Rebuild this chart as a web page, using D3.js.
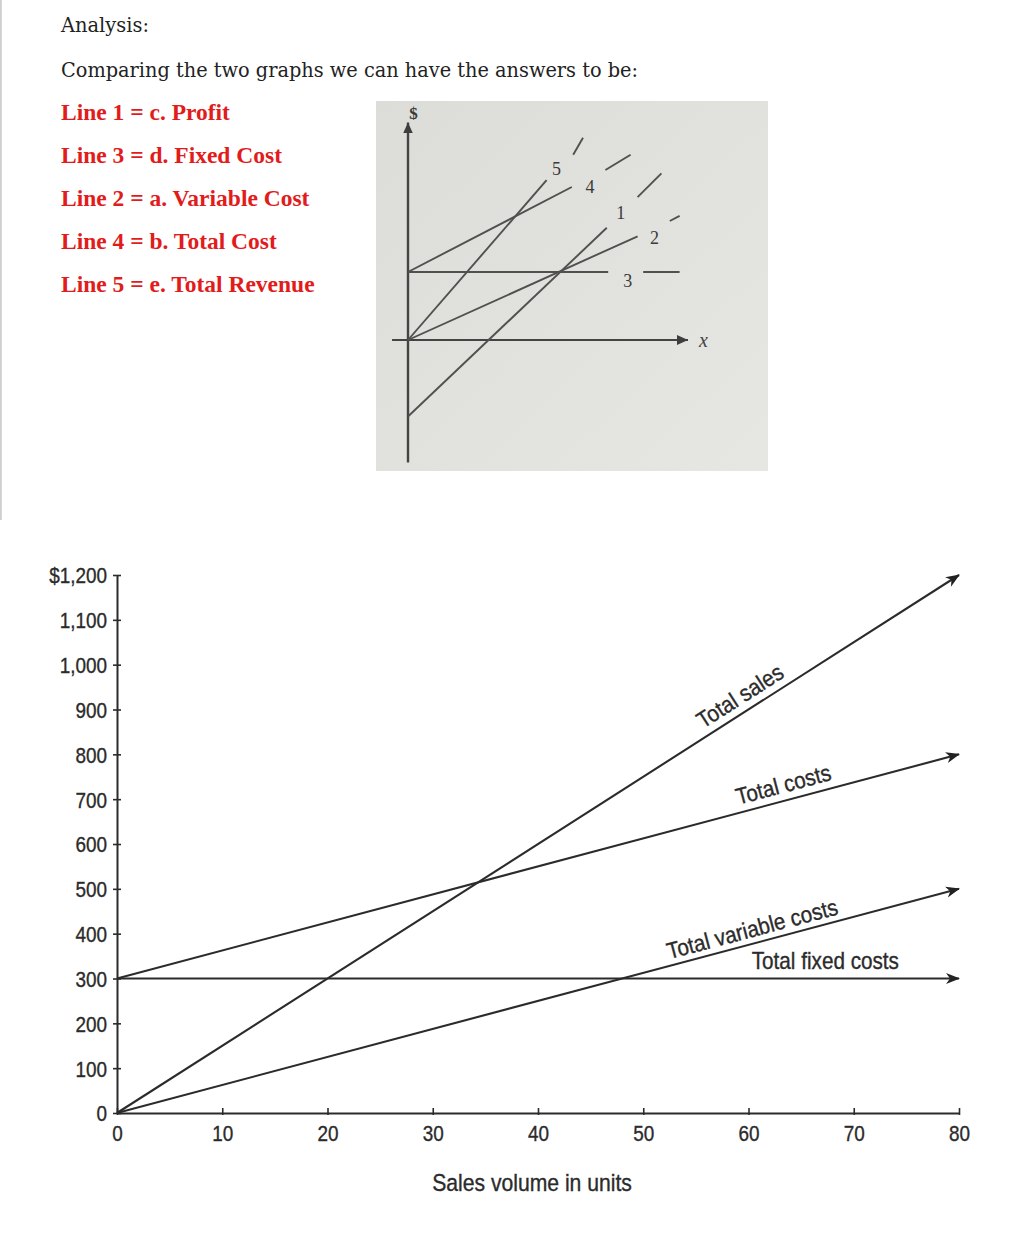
<!DOCTYPE html>
<html>
<head>
<meta charset="utf-8">
<script src="https://cdn.jsdelivr.net/npm/d3@7"></script>
<style>
  body { margin: 0; background: #fff; }
  svg { display: block; }
  .chart text { font-family: "Liberation Sans", Arial, sans-serif; font-size: 22px; fill: #2b2b2b; stroke: #2b2b2b; stroke-width: 0.35px; }
</style>
</head>
<body>
<div id="page"></div>
<script>
// ---- text block ----
const heading = 'Analysis:';
const intro = 'Comparing the two graphs we can have the answers to be:';
const answers = [
  'Line 1 = c. Profit',
  'Line 3 = d. Fixed Cost',
  'Line 2 = a. Variable Cost',
  'Line 4 = b. Total Cost',
  'Line 5 = e. Total Revenue'
];

// ---- sketch (photo) lines: [start, end] in sketch units ----
const sketchIds = ['1', '2', '3', '4', '5'];
const sketchLines = [
  [[0, -2.25], [7.1, 3.3]],
  [[0, 0], [8.2, 3.05]],
  [[0, 2], [7.15, 2]],
  [[0, 2], [5.85, 4.5]],
  [[0, 0], [4.95, 4.7]]
];
const sketchDashes = [
  [[8.2, 4.2], [9.05, 4.9]],
  [[9.35, 3.5], [9.7, 3.65]],
  [[8.4, 2], [9.7, 2]],
  [[7.05, 5.0], [7.95, 5.45]],
  [[5.9, 5.45], [6.25, 5.95]]
];
const sketchLabels = [[7.6, 3.75], [8.8, 3.0], [7.85, 1.75], [6.5, 4.5], [5.3, 5.05]];

// ---- break-even chart ----
const units = [0, 80];
const totalSales = [0, 1200];
const totalCosts = [300, 800];
const totalVariableCosts = [0, 500];
const totalFixedCosts = [300, 300];
const seriesNames = ['Total sales', 'Total costs', 'Total variable costs', 'Total fixed costs'];
const labelUnits = [60, 63.7, 60.7, 67.3];
const yTicks = [0, 100, 200, 300, 400, 500, 600, 700, 800, 900, 1000, 1100, 1200];
const xTicks = [0, 10, 20, 30, 40, 50, 60, 70, 80];
const xTitle = 'Sales volume in units';

const W = 1024, H = 1233;
// horizontal squeeze to mimic a condensed face
const NARROW_TICK = 0.86;
const NARROW_LABEL = 0.9;

const svg = d3.select('#page').append('svg')
  .attr('width', W)
  .attr('height', H);

// left border strip of the page
svg.append('line')
  .attr('x1', 0.8).attr('x2', 0.8)
  .attr('y1', 0).attr('y2', 520)
  .attr('stroke', '#cfcfcf')
  .attr('stroke-width', 2);

// Text block
const serif = '"DejaVu Serif", "Liberation Serif", serif';
svg.append('text')
  .attr('x', 61).attr('y', 32)
  .attr('textLength', 88).attr('lengthAdjust', 'spacingAndGlyphs')
  .style('font-family', serif)
  .style('font-size', '20px')
  .style('fill', '#222')
  .text(heading);

svg.append('text')
  .attr('x', 61).attr('y', 77)
  .attr('textLength', 577).attr('lengthAdjust', 'spacingAndGlyphs')
  .style('font-family', serif)
  .style('font-size', '20px')
  .style('fill', '#222')
  .text(intro);

svg.selectAll('.answer')
  .data(answers)
  .enter().append('text')
  .attr('class', 'answer')
  .attr('x', 61)
  .attr('y', (d, i) => 120 + i * 43)
  .style('font-family', '"Liberation Serif", "DejaVu Serif", serif')
  .style('font-size', '23.5px')
  .style('font-weight', 'bold')
  .style('fill', '#e21b1b')
  .text(d => d);

// Sketch photo
const defs = svg.append('defs');
const grad = defs.append('linearGradient')
  .attr('id', 'photoBg')
  .attr('x1', '0').attr('y1', '0').attr('x2', '1').attr('y2', '1');
grad.append('stop').attr('offset', '0%').attr('stop-color', '#dcdcd8');
grad.append('stop').attr('offset', '100%').attr('stop-color', '#e6e6e3');

svg.append('rect')
  .attr('x', 376).attr('y', 101)
  .attr('width', 392).attr('height', 370)
  .attr('fill', 'url(#photoBg)');

const px = d3.scaleLinear().domain([0, 10]).range([408, 688]);
const py = d3.scaleLinear().domain([0, 5]).range([340, 170]);

defs.append('marker')
  .attr('id', 'sketchArrow')
  .attr('viewBox', '0 -5 10 10')
  .attr('refX', 10).attr('refY', 0)
  .attr('markerWidth', 11).attr('markerHeight', 11)
  .attr('markerUnits', 'userSpaceOnUse')
  .attr('orient', 'auto')
  .append('path')
  .attr('d', 'M0,-4.5L10,0L0,4.5Z')
  .attr('fill', '#3e3e3e');

const sk = svg.append('g').attr('class', 'sketch');
// axes of the sketch
sk.append('line')
  .attr('x1', px(0)).attr('x2', px(0))
  .attr('y1', py(-3.6)).attr('y2', py(6.4))
  .attr('stroke', '#444').attr('stroke-width', 2.4)
  .attr('marker-end', 'url(#sketchArrow)');
sk.append('line')
  .attr('x1', px(-0.57)).attr('x2', px(10))
  .attr('y1', py(0)).attr('y2', py(0))
  .attr('stroke', '#444').attr('stroke-width', 2.2)
  .attr('marker-end', 'url(#sketchArrow)');
sk.append('text')
  .attr('x', px(0.2)).attr('y', py(6.5))
  .attr('text-anchor', 'middle')
  .style('font-family', '"Liberation Serif", serif')
  .style('font-weight', 'bold')
  .style('font-size', '17px')
  .style('fill', '#3a3a3a')
  .text('$');
sk.append('text')
  .attr('x', px(10.55)).attr('y', py(-0.2))
  .attr('text-anchor', 'middle')
  .style('font-family', '"Liberation Serif", serif')
  .style('font-style', 'italic')
  .style('font-size', '20px')
  .style('fill', '#444')
  .text('x');

const sketchPath = d3.line().x(d => px(d[0])).y(d => py(d[1]));
sk.selectAll('.sline')
  .data(sketchLines)
  .enter().append('path')
  .attr('class', 'sline')
  .attr('d', sketchPath)
  .attr('fill', 'none')
  .attr('stroke', '#505050')
  .attr('stroke-width', 1.9);
sk.selectAll('.sdash')
  .data(sketchDashes)
  .enter().append('path')
  .attr('class', 'sdash')
  .attr('d', sketchPath)
  .attr('fill', 'none')
  .attr('stroke', '#505050')
  .attr('stroke-width', 1.9);
sk.selectAll('.slabel')
  .data(sketchLabels)
  .enter().append('text')
  .attr('class', 'slabel')
  .attr('x', d => px(d[0]))
  .attr('y', d => py(d[1]))
  .attr('dy', '0.35em')
  .attr('text-anchor', 'middle')
  .style('font-family', '"Liberation Serif", serif')
  .style('font-size', '18px')
  .style('fill', '#3a3a3a')
  .text((d, i) => sketchIds[i]);

// Break-even chart
const x = d3.scaleLinear().domain([0, 80]).range([117, 959]);
const y = d3.scaleLinear().domain([0, 1200]).range([1113, 575]);

const chart = svg.append('g').attr('class', 'chart');

defs.append('marker')
  .attr('id', 'arrow')
  .attr('viewBox', '0 -6 14 12')
  .attr('refX', 13).attr('refY', 0)
  .attr('markerWidth', 14).attr('markerHeight', 12)
  .attr('markerUnits', 'userSpaceOnUse')
  .attr('orient', 'auto')
  .append('path')
  .attr('d', 'M0,-5.5L14,0L0,5.5L4,0Z')
  .attr('fill', '#222');

const yAxis = d3.axisLeft(y)
  .tickValues(yTicks)
  .tickSizeInner(4)
  .tickSizeOuter(0)
  .tickPadding(6)
  .tickFormat(d => (d === 1200 ? '$' : '') + d3.format(',')(d));
const gy = chart.append('g')
  .attr('transform', `translate(${x(0)},0)`)
  .call(yAxis);
gy.select('.domain').attr('stroke', '#2b2b2b').attr('stroke-width', 2);
gy.selectAll('.tick line').attr('x1', -4).attr('x2', 4).attr('stroke', '#2b2b2b').attr('stroke-width', 1.6);
gy.selectAll('.tick text')
  .attr('dy', '0.36em')
  .attr('x', -10 / NARROW_TICK)
  .attr('transform', `scale(${NARROW_TICK},1)`);

const xAxis = d3.axisBottom(x)
  .tickValues(xTicks)
  .tickSizeInner(4)
  .tickSizeOuter(0)
  .tickPadding(8);
const gx = chart.append('g')
  .attr('transform', `translate(0,${y(0)})`)
  .call(xAxis);
gx.select('.domain').attr('stroke', '#2b2b2b').attr('stroke-width', 2);
gx.selectAll('.tick line').attr('y1', -5).attr('y2', 2).attr('stroke', '#2b2b2b').attr('stroke-width', 1.6);
gx.selectAll('.tick text')
  .attr('transform', `scale(${NARROW_TICK},1)`);
gy.attr('font-family', null).attr('font-size', null);
gx.attr('font-family', null).attr('font-size', null);

chart.append('text')
  .attr('transform', `translate(${(x(0) + x(80)) / 2 - 6},1191) scale(${NARROW_LABEL},1)`)
  .attr('text-anchor', 'middle')
  .style('font-size', '23.5px')
  .text(xTitle);

const series = [totalSales, totalCosts, totalVariableCosts, totalFixedCosts];
const line = d3.line().x((d, i) => x(units[i])).y(d => y(d));

chart.selectAll('.series')
  .data(series)
  .enter().append('path')
  .attr('class', 'series')
  .attr('d', line)
  .attr('fill', 'none')
  .attr('stroke', '#2b2b2b')
  .attr('stroke-width', 2.1)
  .attr('marker-end', 'url(#arrow)');

// labels sit above their line, rotated with it
const labelLift = [8, 8, 6.5, 10];
chart.selectAll('.series-label')
  .data(series)
  .enter().append('text')
  .attr('class', 'series-label')
  .attr('transform', (d, i) => {
    const u = labelUnits[i];
    const v = d[0] + (d[1] - d[0]) * (u - units[0]) / (units[1] - units[0]);
    const ang = Math.atan2(y(d[1]) - y(d[0]), x(units[1]) - x(units[0])) * 180 / Math.PI;
    return `translate(${x(u)},${y(v)}) rotate(${ang}) scale(${NARROW_LABEL},1)`;
  })
  .attr('y', (d, i) => -labelLift[i])
  .attr('text-anchor', 'middle')
  .style('font-size', '23px')
  .text((d, i) => seriesNames[i]);
</script>
</body>
</html>
